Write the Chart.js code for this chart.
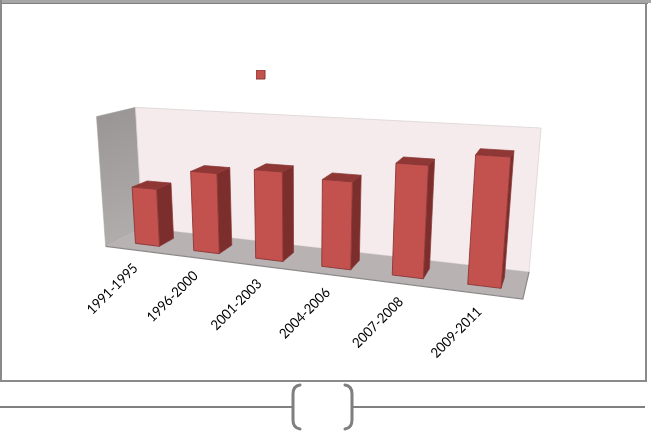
<!DOCTYPE html>
<html><head><meta charset="utf-8">
<style>html,body{margin:0;padding:0;background:#fff}canvas{display:block}</style>
<script src="https://cdn.jsdelivr.net/npm/chart.js@4/dist/chart.umd.min.js"></script>
</head><body><canvas id="c" width="651" height="432"></canvas>
<script>
const categories = ['1991-1995','1996-2000','2001-2003','2004-2006','2007-2008','2009-2011'];
const seriesValues = [45, 61, 66, 63, 78, 87];
const seriesName = '';
const axisMax = 100;

// Calibration of the 3D box: [u, v, w] -> screen
const calib = [
 [0,0,0,106,246],[0,0,1,142,228],[1,0,1,529,272],[1,0,0,523,299],
 [0,1,0,96,117],[0,1,1,136,107],[1,1,1,541,128]
];
const S = 500;
function solve(A,b){
  const n=b.length, M=A.map((r,i)=>[...r,b[i]]);
  for(let i=0;i<n;i++){
    let p=i; for(let k=i+1;k<n;k++) if(Math.abs(M[k][i])>Math.abs(M[p][i])) p=k;
    [M[i],M[p]]=[M[p],M[i]];
    for(let k=0;k<n;k++){ if(k===i) continue; const f=M[k][i]/M[i][i]; for(let j=i;j<=n;j++) M[k][j]-=f*M[i][j]; }
  }
  return M.map((r,i)=>r[n]/r[i]);
}
function fit(){
  const rows=[],rhs=[];
  for(const [X,Y,Z,x0,y0] of calib){
    const x=x0/S,y=y0/S;
    rows.push([X,Y,Z,1,0,0,0,0,-x*X,-x*Y,-x*Z]); rhs.push(x);
    rows.push([0,0,0,0,X,Y,Z,1,-y*X,-y*Y,-y*Z]); rhs.push(y);
  }
  const n=11,A=[],b=[];
  for(let i=0;i<n;i++){A.push(new Array(n).fill(0));b.push(0);
    rows.forEach((r,k)=>{for(let j=0;j<n;j++)A[i][j]+=r[i]*r[j];b[i]+=r[i]*rhs[k];});}
  return solve(A,b);
}
const P=fit();
function proj(u,v,w){
  const d=P[8]*u+P[9]*v+P[10]*w+1;
  return [S*(P[0]*u+P[1]*v+P[2]*w+P[3])/d, S*(P[4]*u+P[5]*v+P[6]*w+P[7])/d];
}
function poly(ctx,pts,fill,stroke,lw){
  ctx.beginPath(); pts.forEach((p,i)=>i?ctx.lineTo(p[0],p[1]):ctx.moveTo(p[0],p[1])); ctx.closePath();
  if(fill){ctx.fillStyle=fill;ctx.fill();}
  if(stroke){ctx.strokeStyle=stroke;ctx.lineWidth=lw||1;ctx.stroke();}
}
const barDepth=[0.27,0.68];
const frame={
  id:'frame',
  beforeDraw(chart){
    const c=chart.ctx; c.save();
    c.fillStyle='#fff'; c.fillRect(0,0,651,432);
    c.fillStyle='#a6a6a6'; c.fillRect(0,0,651,3);
    c.fillStyle='#7f7f7f'; c.fillRect(0,3,648,1);
    c.fillStyle='#8a8a8a'; c.fillRect(0,0,2,382); c.fillRect(0,380,647,2); c.fillRect(645,3,2,379);
    c.fillStyle='#808080'; c.fillRect(0,406,292,2); c.fillRect(352,406,293,2);
    c.strokeStyle='#7f7f7f'; c.lineWidth=3; c.lineCap='round';
    c.beginPath(); c.moveTo(300,385); c.quadraticCurveTo(293,386,293,394); c.lineTo(293,420); c.quadraticCurveTo(293,428,300,429); c.stroke();
    c.beginPath(); c.moveTo(345,385); c.quadraticCurveTo(352,386,352,394); c.lineTo(352,420); c.quadraticCurveTo(352,428,345,429); c.stroke();
    c.restore();
  },
  afterLayout(chart){
    const l=chart.legend; const h=l.bottom-l.top;
    l.left=256; l.right=270; l.top=70; l.bottom=l.top+h;
  },
  beforeDatasetDraw(){ return false; },
  afterDatasetsDraw(chart){
    const c=chart.ctx, xs=chart.scales.x, ys=chart.scales.y, meta=chart.getDatasetMeta(0);
    const U=x=>x/chart.width, V=y=>(ys.bottom-y)/ys.height;
    c.save();
    // walls
    const lg=c.createLinearGradient(96,117,142,228); lg.addColorStop(0,'#9b9696'); lg.addColorStop(1,'#b0acac');
    poly(c,[proj(0,0,0),proj(0,0,1),proj(0,1,1),proj(0,1,0)],lg,'#a9a5a5',0.6);
    poly(c,[proj(0,0,1),proj(1,0,1),proj(1,1,1),proj(0,1,1)],'#f6ebec','#dcd4d4',0.8);
    poly(c,[proj(0,0,0),proj(1,0,0),proj(1,0,1),proj(0,0,1)],'#b8b2b3',null);
    c.beginPath(); const a=proj(0,0,0),d=proj(1,0,0),e=proj(1,0,1);
    c.moveTo(a[0],a[1]); c.lineTo(d[0],d[1]); c.lineTo(e[0],e[1]); c.strokeStyle='#8b8888'; c.lineWidth=1.2; c.stroke();
    // bars
    meta.data.forEach(el=>{
      const p=el.getProps(['x','y','base','width'],true);
      const u0=U(p.x-p.width/2),u1=U(p.x+p.width/2),v1=V(p.y),v0=V(p.base),[w0,w1]=barDepth;
      const edge='#8a3634';
      poly(c,[proj(u1,v0,w0),proj(u1,v0,w1),proj(u1,v1,w1),proj(u1,v1,w0)],'#7b2e2c',edge,0.7);
      poly(c,[proj(u0,v1,w0),proj(u1,v1,w0),proj(u1,v1,w1),proj(u0,v1,w1)],'#8f3735',edge,0.7);
      poly(c,[proj(u0,v0,w0),proj(u1,v0,w0),proj(u1,v1,w0),proj(u0,v1,w0)],'#c3524f',edge,0.9);
    });
    // category labels
    c.fillStyle='#000'; c.font='14px Lato'; c.textAlign='right'; c.textBaseline='middle';
    xs.ticks.forEach((t,i)=>{
      const q=proj(U(xs.getPixelForTick(i)),0,0);
      c.save(); c.translate(q[0]-2,q[1]+15.5); c.rotate(-45*Math.PI/180); c.scale(0.93,1); c.fillText(xs.getLabelForValue(t.value),0,0); c.restore();
    });
    c.restore();
  }
};
new Chart(document.getElementById('c'),{
  type:'bar',
  data:{labels:categories,datasets:[{label:seriesName,data:seriesValues,backgroundColor:'#c3524f',borderColor:'#8a3634',borderWidth:1,categoryPercentage:1,barPercentage:0.42}]},
  options:{responsive:false,animation:false,devicePixelRatio:1,
    layout:{padding:{left:6}},
    scales:{x:{display:false,offset:true},y:{display:false,min:0,max:axisMax}},
    plugins:{tooltip:{enabled:false},title:{display:false},
      legend:{display:true,position:'top',align:'start',labels:{boxWidth:9,boxHeight:9,padding:0,font:{size:1}}}}},
  plugins:[frame]
});
</script></body></html>
